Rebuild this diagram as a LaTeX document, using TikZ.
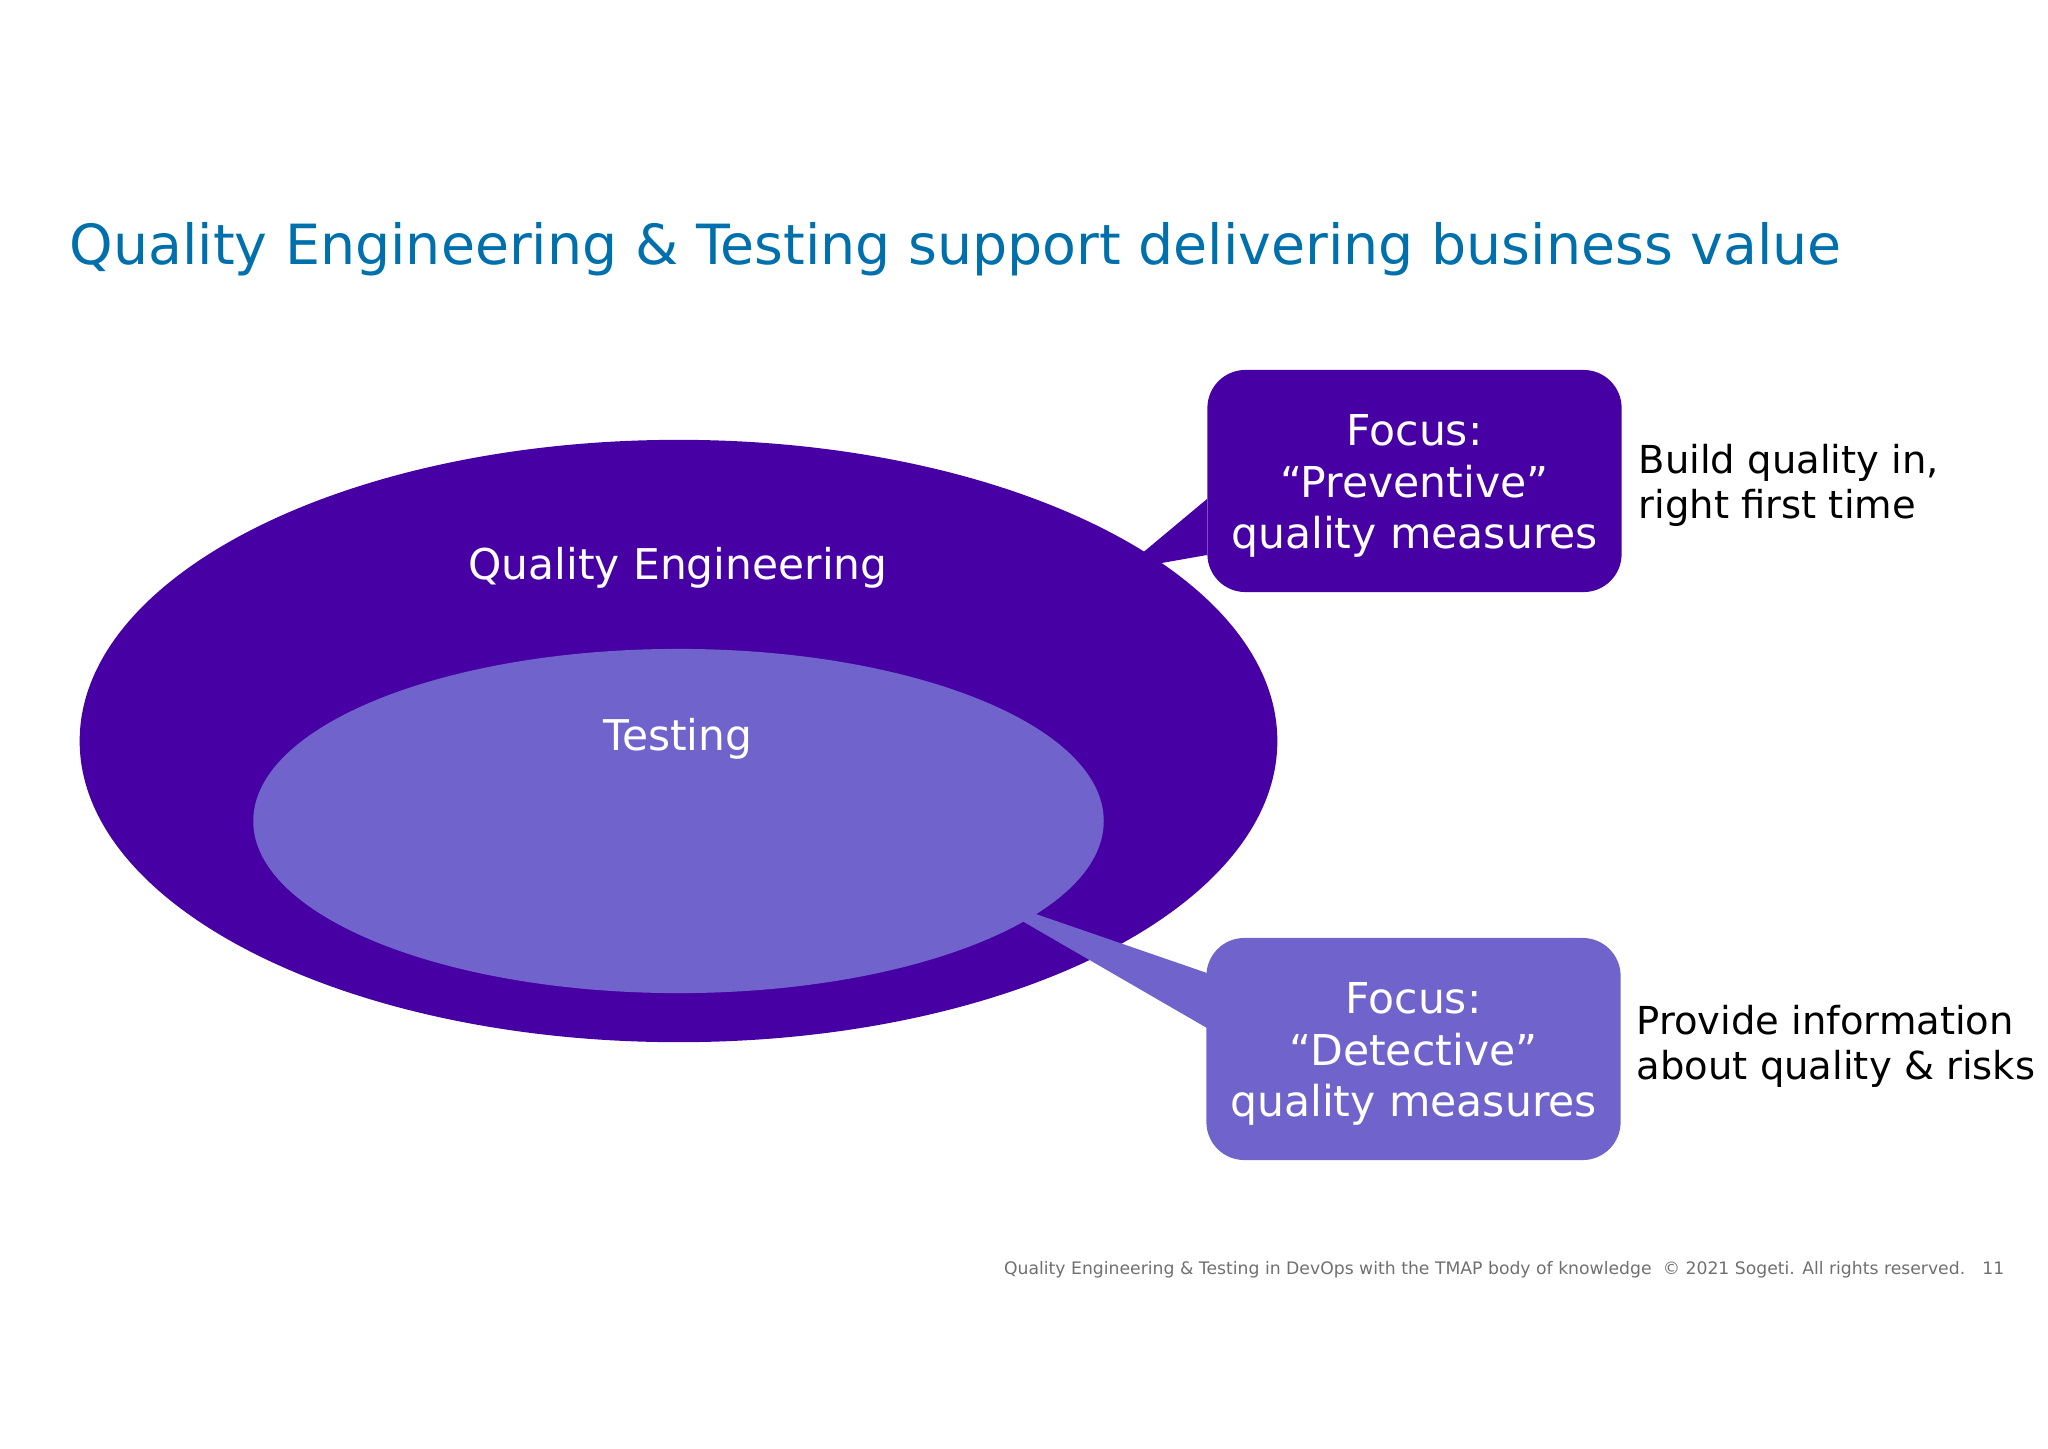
\documentclass[tikz,border=0pt]{standalone}
\usepackage{fontspec}
\setmainfont{DejaVu Sans}
\definecolor{darkviolet}{HTML}{4700A3}
\definecolor{lightviolet}{HTML}{7064CC}
\definecolor{titleblue}{HTML}{0070AD}
\definecolor{footgray}{HTML}{707070}
\tikzset{
	focusbox/.style={rounded corners=0.38cm, minimum width=4.14cm, minimum height=2.22cm, inner sep=0pt},
	focustext/.style={inner sep=0pt, align=center, text=white, font=\fontsize{12.1}{14.7}\selectfont},
	sidetext/.style={anchor=west, align=left, inner sep=0pt, font=\fontsize{10.95}{12.85}\selectfont},
	ovaltext/.style={text=white, inner sep=0pt, font=\fontsize{12.05}{15}\selectfont},
}
\begin{document}
\begin{tikzpicture}[x=0.01cm, y=-0.01cm]
	\useasboundingbox (0,0) rectangle (2048,1448);
	\node (title) [anchor=west, inner sep=0pt, text=titleblue, font=\fontsize{15.75}{18}\selectfont] at (69,249) {Quality Engineering \& Testing support delivering business value};

	\fill[darkviolet] (678.5,741) ellipse (5.985cm and 3.01cm);
	\fill[darkviolet] (1207,499) -- (1122,570) -- (1207,555) -- cycle;
	\node (preventive) [focusbox, fill=darkviolet] at (1414.5,481) {};
	\node (preventivetext) [focustext] at (1414.5,486) {Focus:\\“Preventive”\\quality measures};

	\fill[lightviolet] (678.5,821) ellipse (4.25cm and 1.72cm);
	\fill[lightviolet] (1207,973) -- (972,892) -- (1207,1028) -- cycle;
	\node (detective) [focusbox, fill=lightviolet] at (1413.5,1049) {};
	\node (detectivetext) [focustext] at (1413.5,1054) {Focus:\\“Detective”\\quality measures};

	\node (qe) [ovaltext] at (678,568) {Quality Engineering};
	\node (testing) [ovaltext] at (678,739) {Testing};

	\node (buildin) [sidetext] at (1638,485) {Build quality in,\\right first time};
	\node (provide) [sidetext] at (1636,1046) {Provide information\\about quality \& risks};

	\node (footer) [anchor=east, inner sep=0pt, text=footgray, font=\fontsize{4.9}{6}\selectfont] at (2005,1270) {Quality Engineering \& Testing in DevOps with the TMAP body of knowledge\hspace{0.65em}© 2021 Sogeti. All rights reserved.\hspace{1em}11};
\end{tikzpicture}
\end{document}
